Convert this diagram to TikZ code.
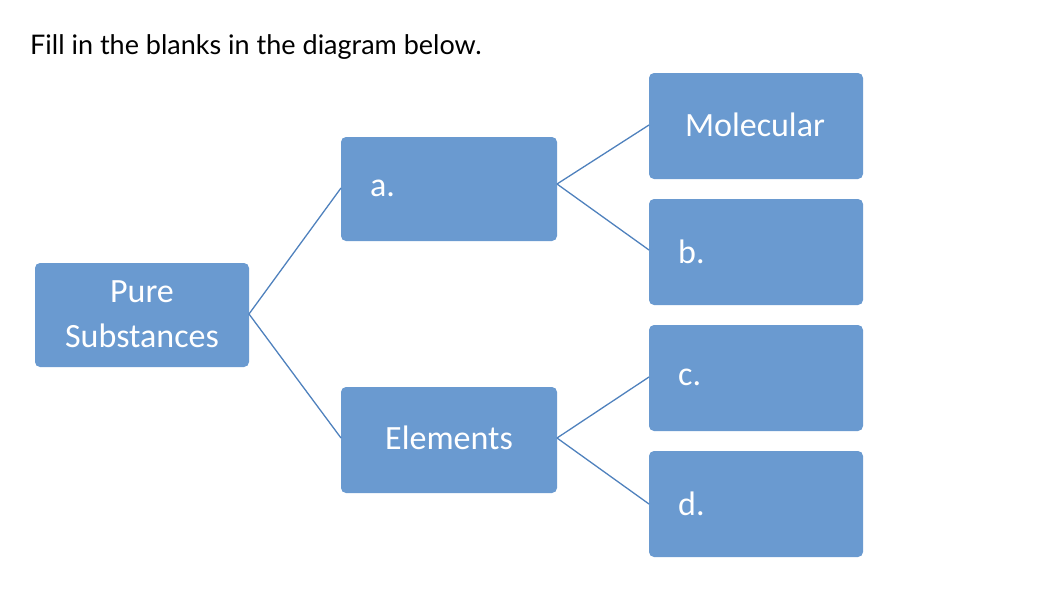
\documentclass[tikz,border=0pt]{standalone}
\usepackage{fontspec}
\setmainfont{Carlito}
\newfontfamily\latofont{Lato}
\definecolor{boxblue}{RGB}{106,154,208}
\definecolor{lineblue}{RGB}{79,129,189}
\begin{document}
\begin{tikzpicture}[x=1pt,y=-1pt,
  bx/.style={fill=boxblue,draw=none,rounded corners=5pt},
  lbl/.style={text=white,font=\fontsize{34}{38}\selectfont,inner sep=0pt},
  conn/.style={draw=lineblue,line width=1.3pt}]
\useasboundingbox (0,0) rectangle (1040,602);
\node[anchor=west,inner sep=0pt,font=\latofont\fontsize{27}{30}\selectfont] (title) at (30,47) {Fill in the blanks in the diagram below.};
\fill[bx] (35,263) rectangle (249,367);
\fill[bx] (341,137) rectangle (557,241);
\fill[bx] (341,387) rectangle (557,493);
\fill[bx] (649,73) rectangle (863,179);
\fill[bx] (649,199) rectangle (863,305);
\fill[bx] (649,325) rectangle (863,431);
\fill[bx] (649,451) rectangle (863,557);
\node[lbl,align=center,font=\fontsize{34}{45}\selectfont] (pure) at (142,314) {Pure\\Substances};
\node[lbl,anchor=west] (a) at (370,188) {a.};
\node[lbl] (el) at (449,438) {Elements};
\node[lbl] (mol) at (755,125) {Molecular};
\node[lbl,anchor=west] (b) at (678,252) {b.};
\node[lbl,anchor=west] (c) at (678,377) {c.};
\node[lbl,anchor=west] (d) at (678,504) {d.};
\coordinate (pr) at (249,314);
\coordinate (al) at (341,188);
\coordinate (ar) at (557,184);
\coordinate (ell) at (341,438);
\coordinate (elr) at (557,438);
\coordinate (ml) at (649,125);
\coordinate (bl) at (649,250);
\coordinate (cl) at (649,377);
\coordinate (dl) at (649,504);
\draw[conn] (pr) -- (al);
\draw[conn] (pr) -- (ell);
\draw[conn] (ar) -- (ml);
\draw[conn] (ar) -- (bl);
\draw[conn] (elr) -- (cl);
\draw[conn] (elr) -- (dl);
\end{tikzpicture}
\end{document}
